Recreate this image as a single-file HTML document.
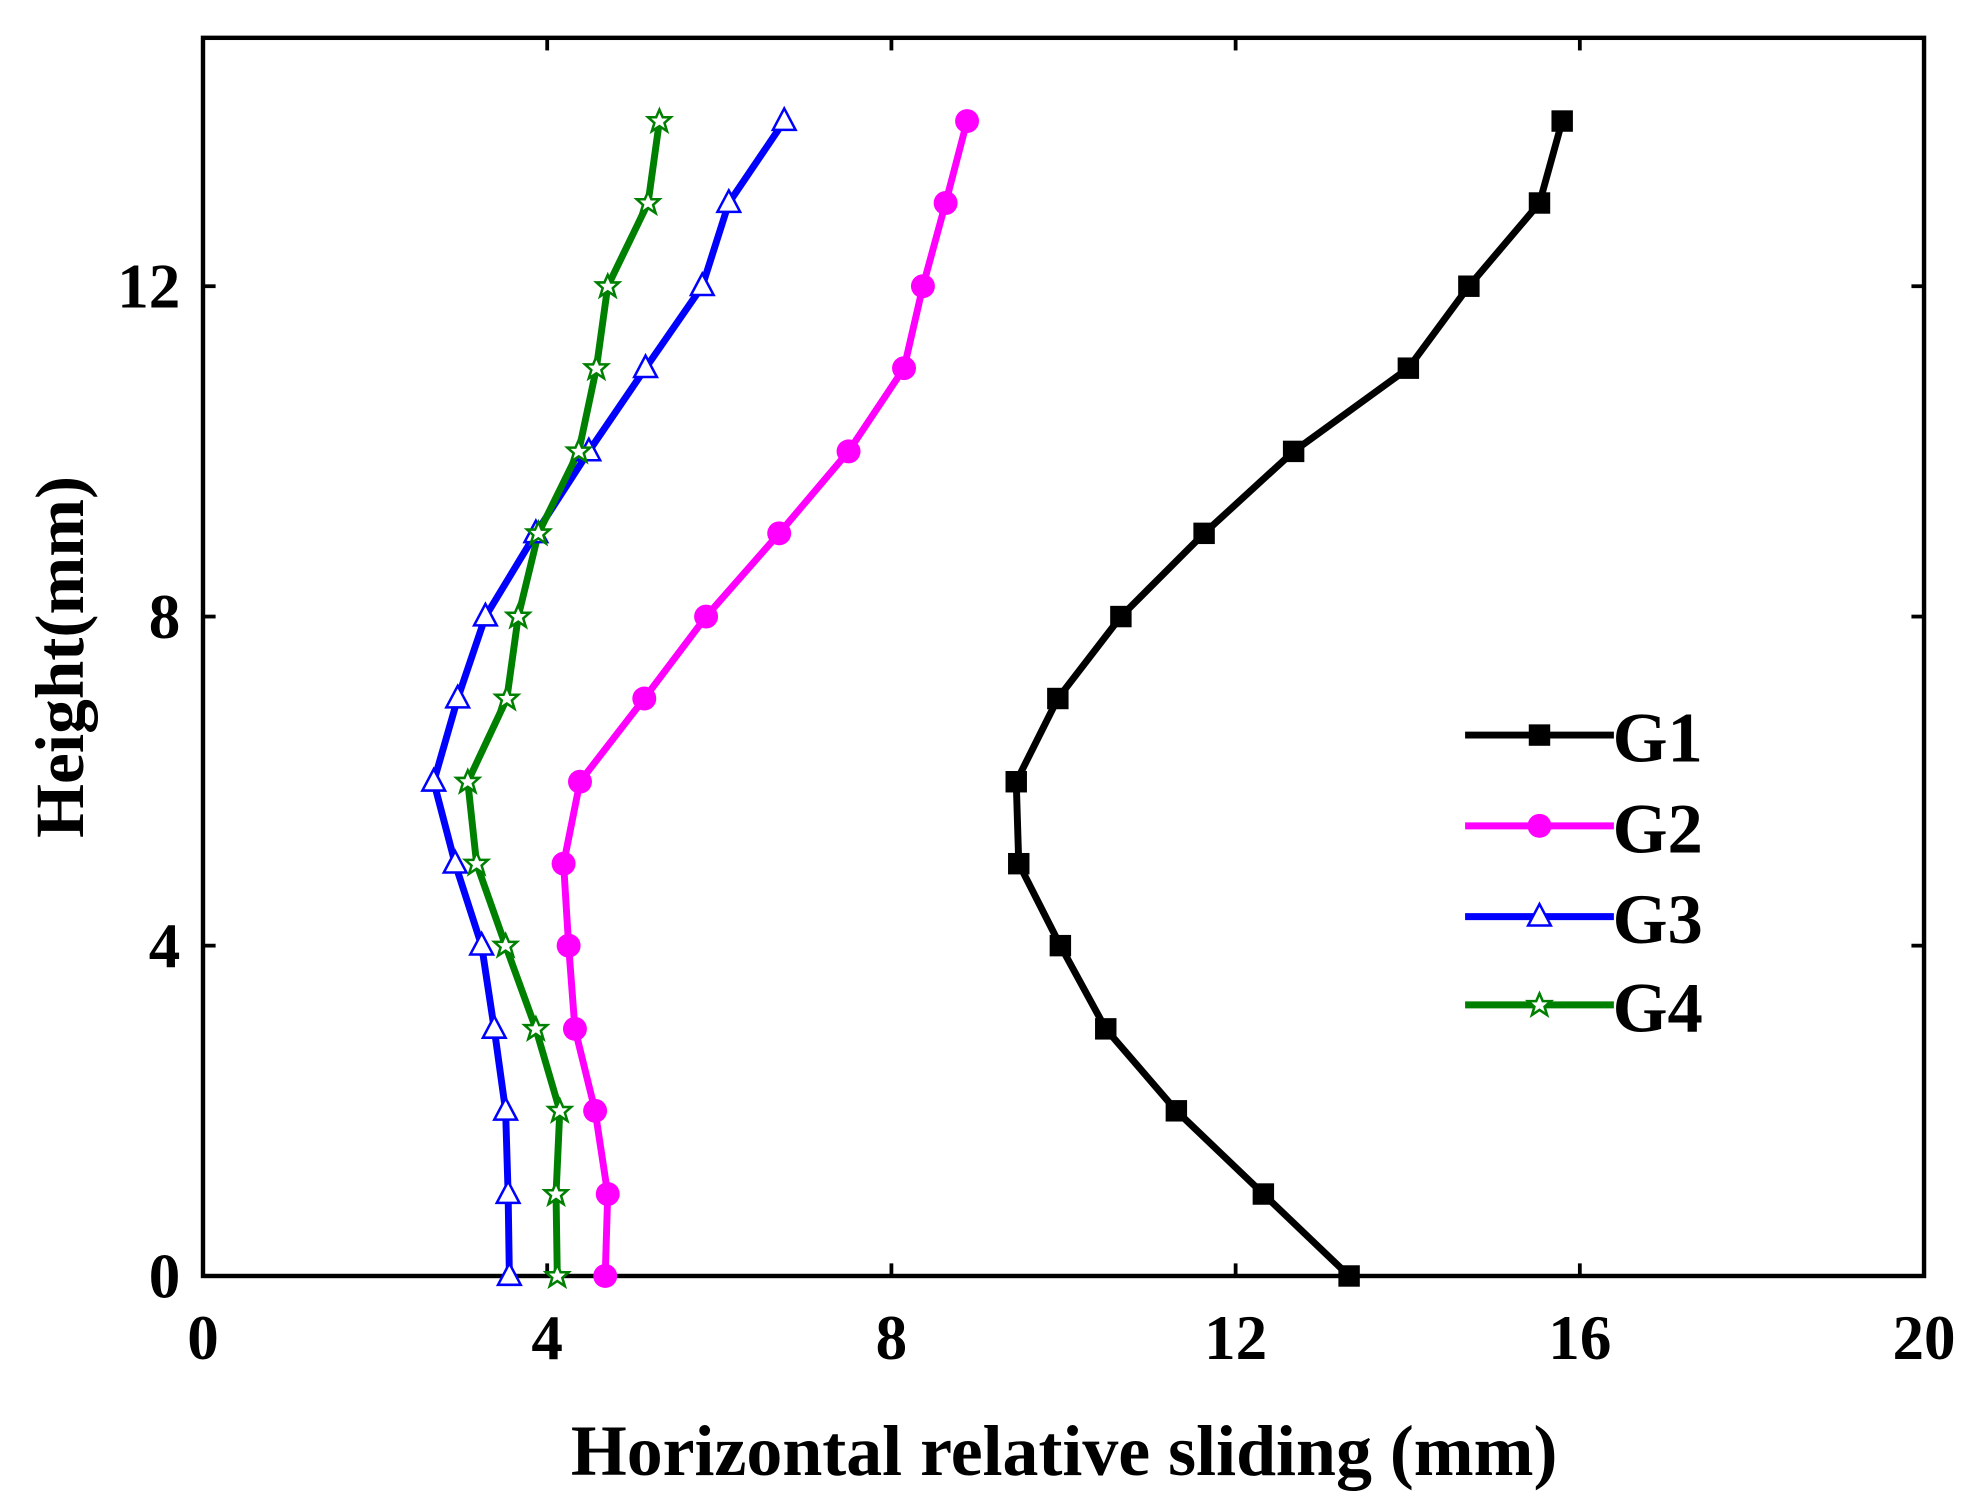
<!DOCTYPE html>
<html><head><style>html,body{margin:0;padding:0;background:#fff}svg{display:block}</style></head><body>
<svg width="1977" height="1510" viewBox="0 0 1568 1197.6" preserveAspectRatio="none" xmlns="http://www.w3.org/2000/svg" font-family="Liberation Serif, serif" font-weight="bold">
<defs>
<rect id="sq" x="-8.5" y="-8.5" width="17" height="17" fill="#000"/>
<circle id="ci" r="9.5" fill="#ff00ff"/>
<path id="tr" d="M0,-10 L9,7 L-9,7 Z" fill="#fff" stroke="#0000ff" stroke-width="2"/>
<path id="st" d="M0,-9 L2.6,-3 L9,-3 L4,1.5 L6,8 L0,4 L-6,8 L-4,1.5 L-9,-3 L-2.6,-3 Z" fill="#fff" stroke="#008000" stroke-width="2"/>
</defs>
<rect x="161" y="30" width="1365" height="982" fill="none" stroke="#000" stroke-width="3.5"/>
<g stroke="#000" stroke-width="3">
<line x1="434" y1="1012" x2="434" y2="1002"/><line x1="707" y1="1012" x2="707" y2="1002"/><line x1="980" y1="1012" x2="980" y2="1002"/><line x1="1253" y1="1012" x2="1253" y2="1002"/>
<line x1="434" y1="30" x2="434" y2="40"/><line x1="707" y1="30" x2="707" y2="40"/><line x1="980" y1="30" x2="980" y2="40"/><line x1="1253" y1="30" x2="1253" y2="40"/>
<line x1="161" y1="750" x2="171" y2="750"/><line x1="161" y1="489" x2="171" y2="489"/><line x1="161" y1="227" x2="171" y2="227"/>
<line x1="1526" y1="750" x2="1516" y2="750"/><line x1="1526" y1="489" x2="1516" y2="489"/><line x1="1526" y1="227" x2="1516" y2="227"/>
</g>
<g font-size="50" text-anchor="middle">
<text x="161" y="1078">0</text><text x="434" y="1078">4</text><text x="707" y="1078">8</text><text x="980" y="1078">12</text><text x="1253" y="1078">16</text><text x="1526" y="1078">20</text>
</g>
<g font-size="50" text-anchor="end">
<text x="143" y="1029">0</text><text x="143" y="767">4</text><text x="143" y="506">8</text><text x="143" y="244">12</text>
</g>
<text x="844" y="1170" font-size="57" text-anchor="middle">Horizontal relative sliding (mm)</text>
<text transform="translate(66,521) rotate(-90)" font-size="55" text-anchor="middle">Height(mm)</text>
<g fill="none" stroke-width="5.5" stroke-linejoin="round">
<polyline stroke="#000" points="1070,1012 1002,947 933,881 877,816 841,750 808,685 806,620 839,554 889,489 955,423 1026,358 1117,292 1165,227 1221,161 1239,96"/>
<polyline stroke="#ff00ff" points="480,1012 482,947 472,881 456,816 451,750 447,685 460,620 511,554 560,489 618,423 673,358 717,292 732,227 750,161 767,96"/>
<polyline stroke="#0000ff" points="404,1012 403,947 401,881 392,816 382,750 361,685 344,620 363,554 385,489 425,423 467,358 512,292 557,227 578,161 622,96"/>
<polyline stroke="#008000" points="442,1012 441,947 444,881 425,816 401,750 378,685 371,620 402,554 411,489 427,423 459,358 473,292 482,227 514,161 523,96"/>
<line stroke="#000" x1="1162" y1="583" x2="1280" y2="583"/>
<line stroke="#ff00ff" x1="1162" y1="655" x2="1280" y2="655"/>
<line stroke="#0000ff" x1="1162" y1="727" x2="1280" y2="727"/>
<line stroke="#008000" x1="1162" y1="797" x2="1280" y2="797"/>
</g>
<g>
<use href="#sq" x="1070" y="1012"/><use href="#sq" x="1002" y="947"/><use href="#sq" x="933" y="881"/><use href="#sq" x="877" y="816"/><use href="#sq" x="841" y="750"/><use href="#sq" x="808" y="685"/><use href="#sq" x="806" y="620"/><use href="#sq" x="839" y="554"/><use href="#sq" x="889" y="489"/><use href="#sq" x="955" y="423"/><use href="#sq" x="1026" y="358"/><use href="#sq" x="1117" y="292"/><use href="#sq" x="1165" y="227"/><use href="#sq" x="1221" y="161"/><use href="#sq" x="1239" y="96"/><use href="#sq" x="1221" y="583"/>
<use href="#ci" x="480" y="1012"/><use href="#ci" x="482" y="947"/><use href="#ci" x="472" y="881"/><use href="#ci" x="456" y="816"/><use href="#ci" x="451" y="750"/><use href="#ci" x="447" y="685"/><use href="#ci" x="460" y="620"/><use href="#ci" x="511" y="554"/><use href="#ci" x="560" y="489"/><use href="#ci" x="618" y="423"/><use href="#ci" x="673" y="358"/><use href="#ci" x="717" y="292"/><use href="#ci" x="732" y="227"/><use href="#ci" x="750" y="161"/><use href="#ci" x="767" y="96"/><use href="#ci" x="1221" y="655"/>
<use href="#tr" x="404" y="1012"/><use href="#tr" x="403" y="947"/><use href="#tr" x="401" y="881"/><use href="#tr" x="392" y="816"/><use href="#tr" x="382" y="750"/><use href="#tr" x="361" y="685"/><use href="#tr" x="344" y="620"/><use href="#tr" x="363" y="554"/><use href="#tr" x="385" y="489"/><use href="#tr" x="425" y="423"/><use href="#tr" x="467" y="358"/><use href="#tr" x="512" y="292"/><use href="#tr" x="557" y="227"/><use href="#tr" x="578" y="161"/><use href="#tr" x="622" y="96"/><use href="#tr" x="1221" y="727"/>
<use href="#st" x="442" y="1012"/><use href="#st" x="441" y="947"/><use href="#st" x="444" y="881"/><use href="#st" x="425" y="816"/><use href="#st" x="401" y="750"/><use href="#st" x="378" y="685"/><use href="#st" x="371" y="620"/><use href="#st" x="402" y="554"/><use href="#st" x="411" y="489"/><use href="#st" x="427" y="423"/><use href="#st" x="459" y="358"/><use href="#st" x="473" y="292"/><use href="#st" x="482" y="227"/><use href="#st" x="514" y="161"/><use href="#st" x="523" y="96"/><use href="#st" x="1221" y="797"/>
</g>
<g font-size="56">
<text x="1279" y="604">G1</text><text x="1279" y="676">G2</text><text x="1279" y="748">G3</text><text x="1279" y="818">G4</text>
</g>
</svg>
</body></html>
